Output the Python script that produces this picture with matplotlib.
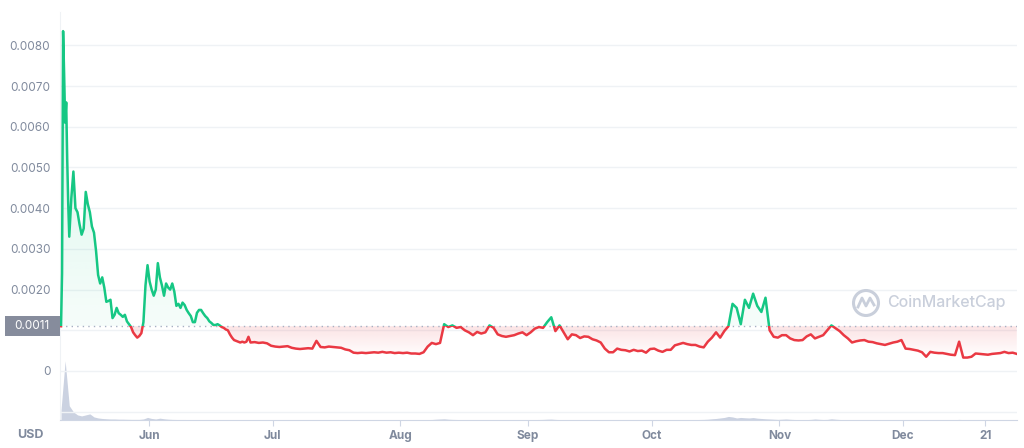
from pathlib import Path

import matplotlib.dates as mdates
import matplotlib.pyplot as plt
import numpy as np
import pandas as pd
from matplotlib.patches import Circle, PathPatch, Rectangle
from matplotlib.path import Path as MPath
from matplotlib.transforms import blended_transform_factory

# price in thousandths of a USD at three sampling rates
price_6h_start = "2021-05-10 15:00"
price_6h = [1.10, 2.40, 8.35, 7.30, 6.10, 6.60, 5.20, 4.10]

price_12h_start = "2021-05-12 15:00"
price_12h = [
    3.30, 4.25, 4.90, 4.00, 3.90, 3.60, 3.35, 3.50, 4.40, 4.10,
    3.90, 3.55, 3.40, 2.95, 2.36, 2.15, 2.30, 2.05, 1.70, 1.72,
    1.75, 1.30, 1.38, 1.55, 1.42, 1.38, 1.33, 1.38, 1.22, 1.15,
    1.08, 0.95, 0.88, 0.82, 0.86, 0.93, 1.20, 2.10, 2.60, 2.20,
    2.00, 1.85, 2.00, 2.65, 2.30, 2.10, 1.85, 2.15, 2.05, 2.00,
    2.15, 1.95, 1.60, 1.65, 1.55, 1.68, 1.62, 1.50, 1.42, 1.35,
    1.20, 1.20, 1.43, 1.50, 1.50, 1.42, 1.35, 1.30, 1.22, 1.18,
    1.13, 1.13, 1.15, 1.12, 1.08, 1.06, 1.02, 1.00, 0.90, 0.82,
    0.76, 0.74, 0.72, 0.70, 0.72, 0.70, 0.72, 0.84, 0.70,
]

price_1d_start = "2021-06-26 15:00"
price_1d = [
    0.71, 0.69, 0.70, 0.68, 0.62, 0.60, 0.59, 0.60, 0.61, 0.57,
    0.55, 0.54, 0.55, 0.56, 0.55, 0.74, 0.59, 0.58, 0.60, 0.59,
    0.58, 0.57, 0.53, 0.51, 0.45, 0.44, 0.45, 0.44, 0.45, 0.46,
    0.45, 0.47, 0.45, 0.46, 0.44, 0.45, 0.44, 0.45, 0.43, 0.43,
    0.42, 0.46, 0.60, 0.69, 0.66, 0.69, 1.15, 1.08, 1.12, 1.06,
    1.08, 1.00, 0.95, 0.88, 0.96, 0.92, 0.95, 1.12, 1.06, 0.90,
    0.86, 0.84, 0.86, 0.88, 0.92, 0.95, 0.88, 0.95, 1.04, 1.08,
    1.06, 1.20, 1.32, 0.98, 1.12, 0.95, 0.78, 0.90, 0.88, 0.81,
    0.85, 0.84, 0.78, 0.75, 0.70, 0.55, 0.46, 0.46, 0.55, 0.52,
    0.51, 0.48, 0.52, 0.49, 0.50, 0.45, 0.54, 0.55, 0.50, 0.47,
    0.52, 0.52, 0.63, 0.66, 0.69, 0.66, 0.64, 0.64, 0.60, 0.58,
    0.72, 0.82, 0.95, 0.82, 0.98, 1.10, 1.65, 1.55, 1.15, 1.75,
    1.55, 1.90, 1.60, 1.45, 1.80, 1.00, 0.84, 0.82, 0.88, 0.88,
    0.80, 0.76, 0.75, 0.76, 0.85, 0.90, 0.80, 0.84, 0.88, 1.00,
    1.12, 1.05, 0.98, 0.88, 0.80, 0.70, 0.73, 0.75, 0.76, 0.72,
    0.71, 0.68, 0.66, 0.64, 0.67, 0.70, 0.72, 0.76, 0.55, 0.54,
    0.52, 0.50, 0.46, 0.35, 0.47, 0.45, 0.44, 0.44, 0.42, 0.40,
    0.39, 0.72, 0.33, 0.33, 0.35, 0.43, 0.42, 0.41, 0.40, 0.42,
    0.43, 0.44, 0.47, 0.44, 0.45, 0.42,
]

# daily traded volume, relative units
volume_start = "2021-05-10 15:00"
volume = [
    10, 58, 14, 8, 5, 4, 5, 6, 3, 2,
    1.5, 1.2, 1, 1, 0.8, 0.8, 0.7, 0.6, 0.6, 0.6,
    1.0, 2.5, 1.5, 1.0, 1.8, 1.2, 0.8, 0.6, 0.5, 0.5,
    0.5, 0.4, 0.4, 0.4, 0.3, 0.3, 0.3, 0.3, 0.3, 0.3,
    0.3, 0.3, 0.3, 0.3, 0.3, 0.3, 0.3, 0.3, 0.3, 0.3,
    0.2, 0.2, 0.2, 0.2, 0.2, 0.2, 0.2, 0.2, 0.2, 0.2,
    0.2, 0.2, 0.2, 0.2, 0.2, 0.2, 0.2, 0.2, 0.2, 0.2,
    0.2, 0.2, 0.2, 0.2, 0.2, 0.2, 0.2, 0.2, 0.2, 0.2,
    0.2, 0.2, 0.2, 0.2, 0.2, 0.2, 0.2, 0.2, 0.3, 0.4,
    0.5, 0.8, 1.0, 1.2, 0.8, 0.6, 0.5, 0.4, 0.4, 0.3,
    0.3, 0.3, 0.3, 0.3, 0.3, 0.3, 0.3, 0.3, 0.3, 0.3,
    0.3, 0.3, 0.3, 0.3, 0.4, 0.4, 0.5, 0.6, 0.8, 0.9,
    0.6, 0.4, 0.3, 0.3, 0.3, 0.3, 0.3, 0.3, 0.3, 0.3,
    0.3, 0.3, 0.3, 0.3, 0.2, 0.2, 0.2, 0.2, 0.2, 0.2,
    0.2, 0.2, 0.2, 0.2, 0.2, 0.2, 0.2, 0.2, 0.2, 0.2,
    0.2, 0.2, 0.3, 0.3, 0.4, 0.5, 0.6, 0.8, 1.2, 1.5,
    2.0, 2.5, 3.5, 3.0, 2.0, 2.5, 2.2, 2.0, 2.4, 1.8,
    1.5, 1.2, 1.0, 0.8, 0.6, 0.8, 1.0, 0.7, 0.5, 0.4,
    0.4, 0.4, 0.6, 1.0, 0.7, 0.5, 0.6, 1.2, 0.8, 0.5,
    0.4, 0.4, 0.4, 0.4, 0.4, 0.4, 0.4, 0.4, 0.4, 0.4,
    0.3, 0.3, 0.3, 0.3, 0.3, 0.3, 0.3, 0.3, 0.3, 0.3,
    0.3, 0.3, 0.3, 0.3, 0.3, 0.3, 0.3, 0.3, 0.6, 0.3,
    0.3, 0.3, 0.3, 0.3, 0.3, 0.3, 0.3, 0.3, 0.3, 0.3,
    0.3, 0.3, 0.3,
]

baseline = 0.0011
ytick_musd = [-1, 0, 1, 2, 3, 4, 5, 6, 7, 8]
xtick_dates = ["2021-06-01", "2021-07-01", "2021-08-01", "2021-09-01",
               "2021-10-01", "2021-11-01", "2021-12-01", "2021-12-21"]
xtick_labels = ["Jun", "Jul", "Aug", "Sep", "Oct", "Nov", "Dec", "21"]


def gradient_under(ax, x, y, y0, color, a_near, a_far, above):
    mask = y >= y0 if above else y <= y0
    coll = ax.fill_between(x, y, y0, where=mask, interpolate=True,
                           facecolor="none", edgecolor="none")
    clip = PathPatch(MPath.make_compound_path(*coll.get_paths()),
                     transform=ax.transData, facecolor="none", edgecolor="none")
    rgb = np.array(plt.matplotlib.colors.to_rgb(color))
    n = 256
    img = np.zeros((n, 2, 4))
    img[..., :3] = rgb
    if above:
        alpha = np.linspace(a_near, a_far, n)
        extent = [x[0], x[-1], y0, y.max()]
    else:
        alpha = np.linspace(a_far, a_near, n)
        extent = [x[0], x[-1], y.min(), y0]
    img[..., 3] = alpha[:, None]
    im = ax.imshow(img, extent=extent, origin="lower", aspect="auto",
                   interpolation="bilinear", zorder=1)
    im.set_clip_path(clip)


def main() -> None:
    # config
    fp: Path = Path("out.png")
    plt.rcParams["font.family"] = ["Inter", "DejaVu Sans"]
    green = "#16c784"
    red = "#ea3943"
    label_grey = "#808a9d"
    grid_grey = "#eff2f5"

    dates = np.concatenate([
        pd.date_range(price_6h_start, periods=len(price_6h), freq="6h").values,
        pd.date_range(price_12h_start, periods=len(price_12h), freq="12h").values,
        pd.date_range(price_1d_start, periods=len(price_1d), freq="1D").values,
    ])
    x = mdates.date2num(pd.to_datetime(dates))
    price = np.array(price_6h + price_12h + price_1d) * 1e-3
    vx = mdates.date2num(pd.date_range(volume_start, periods=len(volume), freq="1D"))

    xlim = (x[0] - 0.25, x[-1] + 0.05)
    ylim = (-0.001204, 0.00882)

    fig = plt.figure(figsize=(10.24, 4.48), dpi=100)
    rect = [60 / 1024, 28 / 448, 957 / 1024, 408 / 448]

    # volume underneath
    axv = fig.add_axes(rect)
    axv.fill_between(vx, volume, 0, color="#cbd2e1", lw=0)
    axv.set_xlim(*xlim)
    axv.set_ylim(0, 400)
    axv.axis("off")

    ax = fig.add_axes(rect)
    ax.set_facecolor("none")

    gradient_under(ax, x, price, baseline, green, 0.04, 0.2, True)
    gradient_under(ax, x, price, baseline, red, 0.14, 0.0, False)

    blend = blended_transform_factory(ax.transAxes, ax.transData)
    clip_up = Rectangle((0, baseline), 1, 1, transform=blend)
    clip_dn = Rectangle((0, baseline - 1), 1, 1, transform=blend)
    ln_up, = ax.plot(x, price, color=green, lw=1.8, zorder=3, solid_joinstyle="round")
    ln_up.set_clip_path(clip_up)
    ln_dn, = ax.plot(x, price, color=red, lw=1.8, zorder=3, solid_joinstyle="round")
    ln_dn.set_clip_path(clip_dn)

    ax.axhline(baseline, color="#a6b0c3", lw=1, ls=(0, (1, 3)), zorder=2)

    # axes styling
    ax.set_xlim(*xlim)
    ax.set_ylim(*ylim)
    yt = [v * 1e-3 for v in ytick_musd]
    ylab = ["" if v in (-1, 1) else ("0" if v == 0 else f"{v * 1e-3:.4f}") for v in ytick_musd]
    ax.set_yticks(yt, ylab)
    ax.tick_params(axis="y", length=0, pad=7, labelcolor=label_grey, labelsize=8.5)
    ax.grid(axis="y", color=grid_grey, lw=1)
    ax.set_axisbelow(True)
    ax.set_xticks(mdates.date2num(pd.to_datetime(xtick_dates)), xtick_labels)
    ax.tick_params(axis="x", length=4, color="#cfd6e4", labelcolor=label_grey,
                   labelsize=8.5, pad=3)
    for lab in ax.get_xticklabels():
        lab.set_fontweight("bold")
    for s in ("top", "right"):
        ax.spines[s].set_visible(False)
    ax.spines["left"].set_color(grid_grey)
    ax.spines["bottom"].set_color("#cfd6e4")

    # current-price label on the left
    fblend = blended_transform_factory(fig.transFigure, ax.transData)
    box_h = 20 / 408 * (ylim[1] - ylim[0])
    fig.add_artist(Rectangle((5 / 1024, baseline - box_h / 2), 55 / 1024, box_h,
                             transform=fblend, facecolor="#868c9c", edgecolor="none",
                             zorder=4))
    fig.text(32 / 1024, baseline, "0.0011", transform=fblend, ha="center", va="center",
             color="white", fontsize=8.5, zorder=5)

    fig.text(30 / 1024, 13 / 448, "USD", ha="center", va="center", fontsize=9,
             fontweight="bold", color=label_grey)

    # watermark
    wm = "#c9cfdb"
    fig.add_artist(Circle((8.66, 1.45), 0.125, transform=fig.dpi_scale_trans,
                          facecolor="none", edgecolor=wm, lw=2.2))
    fig.add_artist(plt.Line2D([8.58, 8.62, 8.66, 8.70, 8.74], [1.41, 1.50, 1.42, 1.50, 1.43],
                              transform=fig.dpi_scale_trans, color=wm, lw=2.0))
    fig.text(887 / 1024, 145 / 448, "CoinMarketCap", ha="left", va="center",
             fontsize=11.5, color=wm, fontweight="medium")

    # output
    fig.savefig(fp, dpi=100)
    plt.close(fig)
    return None


if __name__ == "__main__":
    main()
